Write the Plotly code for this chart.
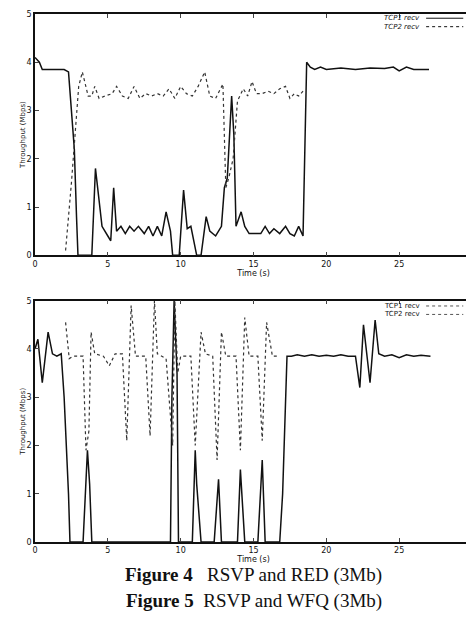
import plotly.graph_objects as go
from plotly.subplots import make_subplots

# Figure 4 (top): RSVP and RED
t1_top = [0,0.3,0.5,1,1.5,2,2.3,2.5,2.7,2.85,2.95,3.5,3.9,4.15,4.35,4.6,5,5.2,5.4,5.6,5.9,6.2,6.5,6.8,7.1,7.5,7.8,8.1,8.4,8.7,9.0,9.3,9.45,9.6,9.9,10.2,10.45,10.7,11.1,11.4,11.75,12,12.4,12.8,13.0,13.2,13.5,13.65,13.8,14.15,14.4,14.7,15,15.5,15.8,16.1,16.4,16.8,17.2,17.5,17.8,18.1,18.4,18.65,18.9,19.2,19.6,20,21,22,23,24,24.6,25,25.5,26,27.05]
v1_top = [4.1,4.0,3.85,3.85,3.85,3.85,3.8,3.0,2.2,0.8,0,0,0,1.8,1.2,0.6,0.4,0.3,1.4,0.5,0.6,0.45,0.6,0.5,0.6,0.45,0.6,0.4,0.6,0.4,0.9,0.5,0,0,0,1.35,0.55,0.6,0,0,0.8,0.5,0.4,0.6,1.4,1.6,3.3,2.5,0.6,0.9,0.6,0.45,0.45,0.45,0.6,0.45,0.55,0.45,0.6,0.45,0.4,0.6,0.4,4.0,3.9,3.85,3.9,3.85,3.88,3.85,3.88,3.87,3.9,3.82,3.9,3.85,3.85]
t2_top = [2.1,2.5,3.0,3.25,3.65,3.9,4.1,4.4,4.8,5.3,5.6,6.0,6.4,6.8,7.2,7.6,8.0,8.4,8.8,9.2,9.6,10.0,10.4,10.8,11.2,11.65,12.0,12.4,12.9,13.1,13.3,13.6,13.9,14.3,14.6,14.9,15.2,15.6,16.0,16.4,16.8,17.2,17.5,17.8,18.1,18.4]
v2_top = [0.1,1.5,3.5,3.8,3.3,3.3,3.5,3.25,3.3,3.35,3.5,3.3,3.25,3.5,3.25,3.35,3.3,3.35,3.3,3.45,3.25,3.5,3.35,3.3,3.5,3.8,3.3,3.25,3.55,1.4,1.6,2.0,3.2,3.45,3.3,3.6,3.35,3.35,3.4,3.35,3.45,3.5,3.25,3.35,3.3,3.4]

# Figure 5 (bottom): RSVP and WFQ
t1_bot = [0,0.2,0.5,0.9,1.2,1.5,1.8,2.0,2.3,2.4,3.3,3.6,3.75,3.9,9.3,9.4,9.55,9.75,9.85,10.8,11.0,11.1,11.4,12.3,12.6,12.8,13.9,14.1,14.4,15.3,15.6,15.8,16.8,17.0,17.3,17.6,18,18.5,19,19.5,20,20.5,21,21.5,22.0,22.3,22.55,23.0,23.35,23.6,24,24.5,25,25.5,26,26.5,27.15]
v1_bot = [4.0,4.2,3.3,4.35,3.9,3.85,3.9,3.0,1.0,0,0,1.9,1.2,0,0,3.0,5.0,3.5,0,0,1.9,1.2,0,0,1.3,0,0,1.5,0,0,1.7,0,0,1.0,3.85,3.85,3.88,3.85,3.88,3.85,3.87,3.85,3.88,3.85,3.85,3.2,4.5,3.3,4.6,3.9,3.85,3.88,3.82,3.88,3.85,3.87,3.85]
t2_bot = [2.1,2.35,2.6,3.3,3.5,3.7,3.85,4.1,4.7,5.1,5.5,6.0,6.3,6.6,6.9,7.6,7.9,8.2,8.4,9.0,9.45,9.6,9.8,10.0,10.7,11.0,11.4,11.7,12.2,12.5,12.8,13.1,13.8,14.1,14.4,14.7,15.3,15.6,15.9,16.3,16.8]
v2_bot = [4.55,3.8,3.85,3.85,1.9,2.3,4.35,3.9,3.85,3.65,3.9,3.9,2.1,4.9,3.85,3.85,2.2,5.0,3.9,3.8,2.0,5.0,3.5,3.85,3.85,2.0,4.35,3.9,3.85,1.7,4.35,3.85,3.85,1.9,4.65,3.85,3.85,2.1,4.55,3.85,3.85]

ticks_x = [0,5,10,15,20,25,30]
ticks_y = [0,1,2,3,4,5]

fig = make_subplots(rows=2, cols=1, vertical_spacing=0.086)
font = dict(family="DejaVu Sans", size=8, color="#111")
for r, (ta, va, tb, vb) in enumerate([(t1_top, v1_top, t2_top, v2_top), (t1_bot, v1_bot, t2_bot, v2_bot)], start=1):
    fig.add_trace(go.Scatter(x=ta, y=va, mode="lines", line=dict(color="#111", width=1.5), showlegend=False), row=r, col=1)
    fig.add_trace(go.Scatter(x=tb, y=vb, mode="lines", line=dict(color="#333", width=1.2, dash="dot"), showlegend=False), row=r, col=1)
    fig.update_xaxes(range=[0,30], tickvals=ticks_x, ticks="inside", ticklen=4, showline=True, mirror="ticks",
                     linecolor="#111", linewidth=1.5, showgrid=False, zeroline=False, tickfont=font,
                     title=dict(text="Time (s)", font=font, standoff=2), row=r, col=1)
    fig.update_yaxes(range=[0,5], tickvals=ticks_y, ticks="inside", ticklen=4, showline=True, mirror="ticks",
                     linecolor="#111", linewidth=1.5, showgrid=False, zeroline=False, tickfont=font,
                     title=dict(text="Throughput (Mbps)", font=dict(family="DejaVu Sans", size=7, color="#111"), standoff=0), row=r, col=1)

fig.update_yaxes(domain=[0.543, 1], row=1, col=1)
fig.update_yaxes(domain=[0, 0.457], row=2, col=1)

for yy, lab, dash in [(0.992, "TCP1 recv", "solid"), (0.976, "TCP2 recv", "dot")]:
    fig.add_annotation(xref="paper", yref="paper", x=0.885, y=yy, text="<i>"+lab+"</i>", showarrow=False,
                       xanchor="right", yanchor="middle", font=dict(family="DejaVu Sans", size=7, color="#111"))
    fig.add_shape(type="line", xref="paper", yref="paper", x0=0.895, x1=0.98, y0=yy, y1=yy,
                  line=dict(color="#111", width=1, dash=dash))
for yy, lab in [(0.447, "TCP1 recv"), (0.431, "TCP2 recv")]:
    fig.add_annotation(xref="paper", yref="paper", x=0.885, y=yy, text=lab, showarrow=False,
                       xanchor="right", yanchor="middle", font=dict(family="DejaVu Sans", size=7, color="#111"))
    fig.add_shape(type="line", xref="paper", yref="paper", x0=0.895, x1=0.98, y0=yy, y1=yy,
                  line=dict(color="#555", width=1, dash="dot"))

fig.add_annotation(xref="paper", yref="paper", x=0.5, y=-0.062, yanchor="middle", showarrow=False,
                   text="<b>Figure 4</b>   RSVP and RED (3Mb)", font=dict(family="Liberation Serif", size=19, color="#111"))
fig.add_annotation(xref="paper", yref="paper", x=0.5, y=-0.112, yanchor="middle", showarrow=False,
                   text="<b>Figure 5</b>  RSVP and WFQ (3Mb)", font=dict(family="Liberation Serif", size=19, color="#111"))

fig.update_layout(width=474, height=620, margin=dict(l=27, r=10, t=2, b=86),
                  plot_bgcolor="white", paper_bgcolor="white")
fig.write_html("out.html")
